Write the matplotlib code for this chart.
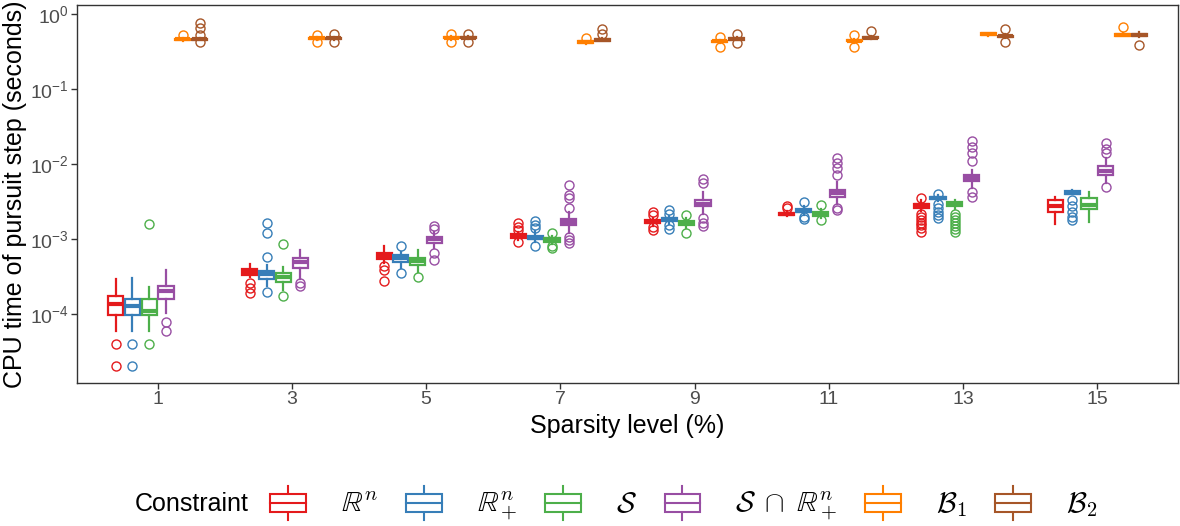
import matplotlib
matplotlib.use("Agg")
import matplotlib.pyplot as plt
from matplotlib.legend_handler import HandlerBase
from matplotlib.patches import Patch, Rectangle
from matplotlib.lines import Line2D
from matplotlib.font_manager import FontProperties
from matplotlib.ticker import LogLocator, NullLocator, LogFormatterSciNotation

plt.rcParams['font.family'] = ['Liberation Sans', 'DejaVu Sans']
plt.rcParams['axes.unicode_minus'] = False

# sparsity levels (%) on the x axis
levels = [1, 3, 5, 7, 9, 11, 13, 15]

constraint_labels = [r'$\mathbb{R}^n$', r'$\mathbb{R}^n_+$', r'$\mathcal{S}$',
                     r'$\mathcal{S}\;\cap\;\mathbb{R}^n_+$', r'$\mathcal{B}_1$', r'$\mathcal{B}_2$']
colors = ['#E41A1C', '#377EB8', '#4DAF4A', '#984EA3', '#FF7F00', '#A65628']

# box stats per level: (whisker low, q1, median, q3, whisker high), seconds
rn_box = [(6.0e-5, 9.8e-5, 1.38e-4, 1.75e-4, 2.93e-4), (3.1e-4, 3.31e-4, 3.63e-4, 3.98e-4, 4.64e-4),
          (4.9e-4, 5.41e-4, 5.98e-4, 6.5e-4, 8.14e-4), (9.8e-4, 1.03e-3, 1.1e-3, 1.17e-3, 1.25e-3),
          (1.5e-3, 1.63e-3, 1.7e-3, 1.8e-3, 1.95e-3), (2.05e-3, 2.1e-3, 2.16e-3, 2.25e-3, 2.4e-3),
          (2.4e-3, 2.6e-3, 2.85e-3, 3.0e-3, 3.3e-3), (1.6e-3, 2.3e-3, 2.75e-3, 3.35e-3, 3.7e-3)]
rn_out = [[4e-5, 2.05e-5], [2.59e-4, 2.22e-4, 1.9e-4], [4.4e-4, 3.9e-4, 2.8e-4],
          [1.63e-3, 1.45e-3, 1.33e-3, 9.3e-4], [2.34e-3, 2.1e-3, 1.45e-3, 1.33e-3],
          [2.75e-3, 2.6e-3], [3.6e-3, 2.2e-3, 2.0e-3, 1.8e-3, 1.65e-3, 1.55e-3, 1.4e-3, 1.27e-3], []]

rnp_box = [(6.0e-5, 9.8e-5, 1.29e-4, 1.58e-4, 3.08e-4), (2.4e-4, 2.93e-4, 3.44e-4, 3.78e-4, 4.54e-4),
           (4.1e-4, 5.03e-4, 5.58e-4, 6.1e-4, 6.84e-4), (9.2e-4, 9.94e-4, 1.05e-3, 1.12e-3, 1.3e-3),
           (1.6e-3, 1.75e-3, 1.85e-3, 1.93e-3, 2.05e-3), (2.1e-3, 2.3e-3, 2.4e-3, 2.55e-3, 2.75e-3),
           (3.2e-3, 3.4e-3, 3.55e-3, 3.7e-3, 3.85e-3), (4.0e-3, 4.0e-3, 4.2e-3, 4.4e-3, 4.5e-3)]
rnp_out = [[4e-5, 2.05e-5], [1.66e-3, 1.22e-3, 5.86e-4, 1.96e-4], [8.2e-4, 3.59e-4],
           [1.73e-3, 1.55e-3, 1.4e-3, 8.14e-4], [2.48e-3, 2.2e-3, 1.53e-3, 1.38e-3],
           [3.1e-3, 2.0e-3, 1.85e-3], [3.98e-3, 3.0e-3, 2.6e-3, 2.3e-3, 2.1e-3, 1.9e-3],
           [3.35e-3, 2.75e-3, 2.3e-3, 2.0e-3, 1.8e-3]]

s_box = [(6.0e-5, 9.8e-5, 1.11e-4, 1.58e-4, 2.33e-4), (2.11e-4, 2.72e-4, 3.17e-4, 3.52e-4, 4.31e-4),
         (3.7e-4, 4.54e-4, 5.13e-4, 5.58e-4, 7.2e-4), (8.6e-4, 9.3e-4, 9.94e-4, 1.03e-3, 1.12e-3),
         (1.4e-3, 1.55e-3, 1.63e-3, 1.75e-3, 1.9e-3), (1.95e-3, 2.05e-3, 2.2e-3, 2.3e-3, 2.5e-3),
         (2.5e-3, 2.8e-3, 3.0e-3, 3.1e-3, 3.35e-3), (1.7e-3, 2.5e-3, 2.85e-3, 3.6e-3, 4.3e-3)]
s_out = [[1.58e-3, 4e-5], [8.58e-4, 1.75e-4], [3.12e-4], [1.22e-3, 8.1e-4, 7.6e-4],
         [2.1e-3, 1.22e-3], [2.85e-3, 1.8e-3],
         [2.2e-3, 2.0e-3, 1.8e-3, 1.65e-3, 1.5e-3, 1.38e-3, 1.27e-3], []]

srnp_box = [(1.03e-4, 1.58e-4, 2.06e-4, 2.38e-4, 3.9e-4), (3.0e-4, 4.1e-4, 5.03e-4, 5.58e-4, 7.2e-4),
            (7.6e-4, 9.0e-4, 9.94e-4, 1.08e-3, 1.27e-3), (1.2e-3, 1.53e-3, 1.69e-3, 1.87e-3, 2.34e-3),
            (2.2e-3, 2.75e-3, 3.0e-3, 3.3e-3, 4.3e-3), (3.0e-3, 3.7e-3, 4.1e-3, 4.5e-3, 5.8e-3),
            (4.8e-3, 6.0e-3, 6.6e-3, 7.2e-3, 8.4e-3), (5.6e-3, 7.2e-3, 8.2e-3, 9.4e-3, 1.2e-2)]
srnp_out = [[7.97e-5, 6e-5], [2.59e-4, 2.38e-4], [1.5e-3, 1.39e-3, 6.6e-4, 5.3e-4],
            [5.3e-3, 3.9e-3, 3.5e-3, 2.59e-3, 1.08e-3, 9.9e-4, 9.0e-4],
            [6.3e-3, 5.7e-3, 1.9e-3, 1.63e-3, 1.5e-3],
            [1.2e-2, 1.04e-2, 8.9e-3, 7.2e-3, 2.6e-3, 2.45e-3],
            [2.06e-2, 1.7e-2, 1.4e-2, 1.1e-2, 4.3e-3, 3.7e-3],
            [1.9e-2, 1.6e-2, 1.4e-2, 5.0e-3]]

b1_box = [(0.44, 0.455, 0.464, 0.475, 0.49), (0.45, 0.47, 0.48, 0.49, 0.50),
          (0.46, 0.48, 0.49, 0.50, 0.51), (0.40, 0.415, 0.425, 0.435, 0.445),
          (0.41, 0.425, 0.434, 0.445, 0.46), (0.42, 0.435, 0.443, 0.455, 0.47),
          (0.52, 0.535, 0.543, 0.555, 0.57), (0.51, 0.52, 0.53, 0.54, 0.56)]
b1_out = [[0.53], [0.53, 0.43], [0.55, 0.43], [0.48], [0.50, 0.37], [0.53, 0.37], [], [0.67]]

b2_box = [(0.45, 0.455, 0.464, 0.475, 0.48), (0.46, 0.47, 0.48, 0.49, 0.50),
          (0.47, 0.48, 0.49, 0.50, 0.51), (0.44, 0.445, 0.454, 0.465, 0.48),
          (0.45, 0.46, 0.47, 0.48, 0.50), (0.47, 0.48, 0.488, 0.50, 0.52),
          (0.49, 0.50, 0.51, 0.52, 0.54), (0.50, 0.52, 0.53, 0.54, 0.58)]
b2_out = [[0.77, 0.65, 0.53, 0.43], [0.55, 0.43], [0.55, 0.43], [0.63, 0.55],
          [0.54, 0.42], [0.595], [0.63, 0.43], [0.385]]

all_boxes = [rn_box, rnp_box, s_box, srnp_box, b1_box, b2_box]
all_out = [rn_out, rnp_out, s_out, srnp_out, b1_out, b2_out]


class BoxKey(HandlerBase):
    def create_artists(self, legend, orig_handle, xdescent, ydescent, width, height, fontsize, trans):
        c = orig_handle.get_edgecolor()
        x0, y0 = -xdescent, -ydescent
        xm = x0 + width / 2
        box = Rectangle((x0, y0 + 0.25 * height), width, 0.5 * height,
                        facecolor='white', edgecolor=c, lw=1.5, transform=trans)
        med = Line2D([x0, x0 + width], [y0 + 0.5 * height] * 2, color=c, lw=1.5, transform=trans)
        top = Line2D([xm, xm], [y0 + 0.75 * height, y0 + 0.98 * height], color=c, lw=1.5, transform=trans)
        bot = Line2D([xm, xm], [y0 + 0.02 * height, y0 + 0.25 * height], color=c, lw=1.5, transform=trans)
        return [top, bot, box, med]


fig = plt.figure(figsize=(11.8, 5.26), dpi=100)
ax = fig.add_axes([77 / 1180, 1 - 383 / 526, 1101 / 1180, 378 / 526])

slot = 0.125
for j in range(6):
    c = colors[j]
    for i in range(len(levels)):
        lo, q1, med, q3, hi = all_boxes[j][i]
        st = dict(whislo=lo, q1=q1, med=med, q3=q3, whishi=hi, fliers=all_out[j][i])
        ax.bxp([st], positions=[i + 1 + (j - 2.5) * slot], widths=slot * 0.9,
               patch_artist=True, showcaps=False, manage_ticks=False,
               boxprops=dict(facecolor='white', edgecolor=c, linewidth=1.6),
               whiskerprops=dict(color=c, linewidth=1.6),
               medianprops=dict(color=c, linewidth=3.0, solid_capstyle='butt'),
               flierprops=dict(marker='o', markerfacecolor='none', markeredgecolor=c,
                               markersize=6.5, markeredgewidth=1.0))

ax.set_yscale('log')
ax.set_ylim(10 ** -4.916, 10 ** 0.124)
ax.set_xlim(0.4, len(levels) + 0.6)
ax.yaxis.set_major_locator(LogLocator(base=10, numticks=10))
ax.yaxis.set_major_formatter(LogFormatterSciNotation())
ax.yaxis.set_minor_locator(NullLocator())
ax.set_xticks(range(1, len(levels) + 1))
ax.set_xticklabels([str(v) for v in levels])

for sp in ax.spines.values():
    sp.set_color('#333333')
    sp.set_linewidth(1.0)
ax.tick_params(axis='both', colors='#333333', length=4, width=1.0, labelsize=14,
               labelcolor='#4D4D4D', pad=2)
ax.set_xlabel('Sparsity level (%)', fontsize=18, labelpad=4)
ax.set_ylabel('CPU time of pursuit step (seconds)', fontsize=18, labelpad=2)

handles = [Patch(facecolor='white', edgecolor=c) for c in colors]
fig.text(135 / 1180, 1 - 504 / 526, 'Constraint', fontsize=18, ha='left', va='center')
fig.legend(handles, constraint_labels, handler_map={Patch: BoxKey()},
           loc='center left', bbox_to_anchor=(270 / 1180, 1 - 504 / 526),
           ncol=6, frameon=False, borderpad=0, borderaxespad=0,
           handlelength=1.23, handleheight=1.5, handletextpad=1.2, columnspacing=0.96,
           prop=FontProperties(size=21, math_fontfamily='cm'))

fig.savefig('out.png', dpi=100)
